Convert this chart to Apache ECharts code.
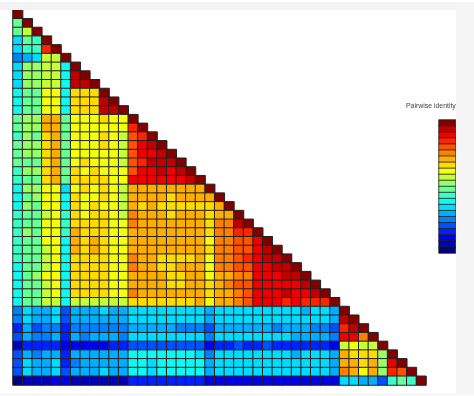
<!DOCTYPE html>
<html><head><meta charset="utf-8">
<style>html,body{margin:0;padding:0;background:#fff}#c{width:474px;height:396px}</style>
<script src="https://cdn.jsdelivr.net/npm/echarts@6/dist/echarts.min.js"></script>
</head><body><div id="c"></div>
<script>
const legendTitle = 'Pairwise identity';
const palette = ['#000080','#0000b8','#0000e8','#0020ff','#0050ff','#0080ff','#00aeff','#00dcff','#10f8f0','#3affc5','#68ff97','#97ff68','#c5ff3a','#f3ff0c','#ffdc00','#ffae00','#ff8000','#ff5100','#ff2300','#ee0000','#c00000','#800000'];
const legendLevels = [21,20,19,18,17,16,15,14,13,12,11,10,9,8,7,6,5,4,3,2,1,0];
const identityRows = [
[21],
[10,21],
[10,12,21],
[7,10,9,21],
[7,9,9,18,21],
[5,6,7,12,12,21],
[7,11,11,12,12,8,21],
[7,11,11,12,12,8,20,21],
[7,11,11,12,12,8,20,20,21],
[8,10,10,13,13,8,14,14,14,21],
[8,10,10,13,13,8,14,14,14,20,21],
[8,10,10,13,13,8,14,14,14,20,20,21],
[10,11,11,15,15,10,13,13,13,14,13,13,21],
[10,11,11,15,15,10,13,13,13,13,13,13,18,21],
[9,11,10,14,15,10,13,13,13,14,13,12,17,18,21],
[10,11,11,14,15,10,13,13,13,14,13,12,17,19,20,21],
[10,11,11,14,15,10,13,13,13,13,13,12,17,19,19,20,21],
[10,10,10,14,15,10,13,14,13,13,13,12,17,18,20,20,20,21],
[9,11,11,14,15,10,14,13,14,13,13,13,17,19,19,20,19,20,21],
[9,10,10,14,15,10,14,14,14,14,13,13,19,19,19,19,19,19,20,21],
[8,11,11,13,13,7,13,14,13,14,13,12,15,15,15,15,15,15,15,15,21],
[8,10,11,13,13,8,14,13,13,14,13,12,15,15,15,15,14,15,15,15,15,21],
[8,11,10,13,13,8,14,13,14,13,13,12,15,14,15,14,14,14,14,14,14,15,21],
[9,10,10,12,13,9,14,13,14,14,13,12,16,15,15,15,14,15,15,15,14,15,15,21],
[9,10,10,13,13,9,14,14,14,14,13,13,16,15,15,15,15,15,15,15,14,16,16,20,21],
[9,11,10,13,13,9,15,14,14,14,13,13,15,15,15,15,15,15,15,15,14,16,16,18,18,21],
[9,10,10,13,13,8,15,14,15,14,13,13,15,15,15,15,15,15,15,15,13,16,16,17,17,19,21],
[9,10,10,12,13,8,15,14,15,14,13,13,15,15,15,15,15,15,15,15,14,16,16,17,17,19,20,21],
[9,10,10,12,13,8,14,14,14,14,13,13,16,15,15,14,14,14,14,15,13,16,16,17,18,19,20,20,21],
[8,10,10,12,13,8,14,14,14,14,13,13,16,15,15,14,14,15,15,15,13,16,16,17,17,19,19,20,20,21],
[8,10,11,13,13,8,14,14,14,14,13,13,15,15,15,15,14,14,15,15,13,15,15,16,16,19,19,19,20,20,21],
[8,10,10,12,13,8,14,14,14,14,13,13,15,15,15,15,14,14,15,15,14,15,16,17,17,19,19,19,19,19,20,21],
[8,10,10,12,13,8,14,14,14,14,13,13,16,15,15,15,15,15,15,15,14,15,15,16,17,19,19,19,20,19,19,20,21],
[8,10,10,12,12,8,12,12,12,12,12,12,14,14,14,14,14,14,14,15,13,15,15,16,17,19,19,19,18,19,18,18,18,21],
[5,7,6,6,7,4,6,6,6,7,6,6,7,7,7,7,7,7,7,7,6,7,7,7,7,7,7,7,7,7,6,7,7,6,21],
[5,7,6,6,7,4,6,6,6,6,6,6,7,7,7,7,7,7,7,7,6,7,7,7,7,7,7,7,7,7,7,7,7,6,20,21],
[3,6,4,5,5,3,5,5,5,5,5,5,6,6,6,6,6,5,5,5,4,6,6,6,6,6,6,5,6,6,6,5,5,4,18,20,21],
[4,6,5,5,6,3,6,5,6,6,6,5,7,7,7,7,7,7,7,7,5,7,7,7,7,7,7,7,7,6,6,6,6,5,19,19,16,21],
[1,3,3,3,3,2,2,2,2,2,3,3,4,4,4,4,4,4,4,4,2,3,3,4,3,3,4,3,3,3,3,3,3,2,12,13,12,12,21],
[4,6,5,6,6,3,6,6,6,6,6,6,8,8,8,8,8,8,8,7,5,7,7,7,7,7,7,7,7,6,7,7,7,6,15,14,14,14,11,21],
[4,7,6,6,7,3,5,6,6,6,6,6,8,8,7,8,8,8,8,8,6,7,7,7,7,7,7,7,7,7,7,7,7,6,15,15,14,15,11,19,21],
[4,7,6,6,7,4,6,6,6,7,6,6,8,8,7,8,8,8,8,8,6,7,7,7,7,7,7,7,7,7,7,7,7,6,16,15,13,15,11,18,17,21],
[0,1,1,1,2,2,1,1,1,1,1,1,3,3,3,3,3,3,3,3,2,2,2,2,2,2,2,2,2,2,2,2,2,2,7,7,6,6,4,9,10,9,21]
];
const size = identityRows.length;
const axisIds = Array.from({length:size},(_,i)=>i);
const cells = [];
identityRows.forEach((row,r)=>row.forEach((v,c)=>cells.push([c,r,v])));
const legendCells = legendLevels.map((v,i)=>[0,i,v]);
const hiddenAxis = {type:'category',show:false};
const chart = echarts.init(document.getElementById('c'),null,{renderer:'canvas'});
chart.setOption({
  animation:false,
  backgroundColor:'#fff',
  title:{text:legendTitle,left:406,top:103,padding:0,textStyle:{fontSize:6.9,fontWeight:'normal',color:'#444',fontFamily:'Liberation Sans'}},
  grid:[
    {left:13,top:10,width:413,height:375},
    {left:439,top:120,width:16.5,height:133}
  ],
  xAxis:[
    {...hiddenAxis,gridIndex:0,data:axisIds},
    {...hiddenAxis,gridIndex:1,data:['level']}
  ],
  yAxis:[
    {...hiddenAxis,gridIndex:0,data:axisIds,inverse:true},
    {...hiddenAxis,gridIndex:1,data:legendLevels,inverse:true}
  ],
  visualMap:{show:false,type:'piecewise',seriesIndex:[0,1],dimension:2,
    pieces:palette.map((color,i)=>({value:i,color}))},
  series:[
    {type:'heatmap',xAxisIndex:0,yAxisIndex:0,data:cells,
      itemStyle:{borderColor:'#222',borderWidth:1},emphasis:{disabled:true},progressive:0},
    {type:'heatmap',xAxisIndex:1,yAxisIndex:1,data:legendCells,
      itemStyle:{borderColor:'#222',borderWidth:0.8},emphasis:{disabled:true},progressive:0}
  ],
  graphic:[
    {type:'rect',z:100,shape:{x:0,y:2,width:474,height:8},style:{fill:'#f3f3f3'}},
    {type:'rect',z:100,shape:{x:456,y:2,width:18,height:394},style:{fill:'#f5f5f5'}},
    {type:'rect',z:100,shape:{x:0,y:393,width:474,height:3},style:{fill:'#f8f8f8'}}
  ]
});
</script></body></html>
